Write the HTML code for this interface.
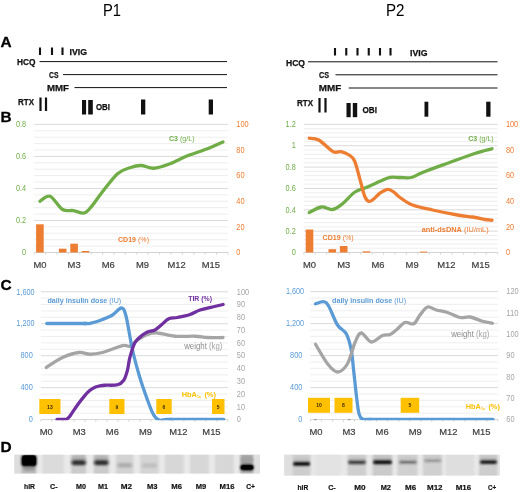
<!DOCTYPE html>
<html><head><meta charset="utf-8"><title>Figure</title><style>html,body{margin:0;padding:0;background:#fff}svg{display:block}</style></head><body>
<svg width="520" height="492" viewBox="0 0 520 492" font-family='"Liberation Sans", sans-serif'>
<defs><filter id="b1" x="-30%" y="-100%" width="160%" height="300%"><feGaussianBlur stdDeviation="1.2 0.9"/></filter><filter id="b0" x="-30%" y="-100%" width="160%" height="300%"><feGaussianBlur stdDeviation="0.6 0.5"/></filter><filter id="b2" x="-30%" y="-100%" width="160%" height="300%"><feGaussianBlur stdDeviation="1.6 1.2"/></filter><filter id="bl" x="-30%" y="-30%" width="160%" height="160%"><feGaussianBlur stdDeviation="1 0"/></filter></defs>
<rect x="0.00" y="0.00" width="520.00" height="492.00" fill="#fff"/>
<text x="102.9" y="15.8" font-size="17.2" fill="#000" textLength="18" lengthAdjust="spacingAndGlyphs">P1</text>
<text x="385.9" y="15.8" font-size="17.2" fill="#000" textLength="18.5" lengthAdjust="spacingAndGlyphs">P2</text>
<text x="0.4" y="47" font-size="15.4" fill="#000" font-weight="bold" stroke="#000" stroke-width="0.3">A</text>
<text x="0.4" y="122" font-size="15.4" fill="#000" font-weight="bold" stroke="#000" stroke-width="0.3">B</text>
<text x="0.4" y="290" font-size="15.4" fill="#000" font-weight="bold" stroke="#000" stroke-width="0.3">C</text>
<text x="0.4" y="452" font-size="15.4" fill="#000" font-weight="bold" stroke="#000" stroke-width="0.3">D</text>
<rect x="38.95" y="47.50" width="2.10" height="7.50" fill="#111"/>
<rect x="50.95" y="47.50" width="2.10" height="7.50" fill="#111"/>
<rect x="61.45" y="47.50" width="2.10" height="7.50" fill="#111"/>
<text x="69.5" y="55" font-size="9.6" fill="#111" font-weight="bold" textLength="17.5" lengthAdjust="spacingAndGlyphs" stroke="#111" stroke-width="0.25">IVIG</text>
<text x="17" y="64.5" font-size="9.7" fill="#111" font-weight="bold" textLength="18.5" lengthAdjust="spacingAndGlyphs" stroke="#111" stroke-width="0.25">HCQ</text>
<line x1="39.5" y1="61.6" x2="227" y2="61.6" stroke="#111" stroke-width="1"/>
<text x="49" y="78" font-size="9.7" fill="#111" font-weight="bold" textLength="9.5" lengthAdjust="spacingAndGlyphs" stroke="#111" stroke-width="0.25">CS</text>
<line x1="63" y1="74.6" x2="227" y2="74.6" stroke="#111" stroke-width="1"/>
<text x="47" y="91" font-size="9.7" fill="#111" font-weight="bold" textLength="22" lengthAdjust="spacingAndGlyphs" stroke="#111" stroke-width="0.25">MMF</text>
<line x1="74.5" y1="87.6" x2="227" y2="87.6" stroke="#111" stroke-width="1"/>
<text x="18" y="105" font-size="9.6" fill="#111" font-weight="bold" textLength="16" lengthAdjust="spacingAndGlyphs" stroke="#111" stroke-width="0.25">RTX</text>
<rect x="39.40" y="97.50" width="2.20" height="13.50" fill="#111"/>
<rect x="44.90" y="97.50" width="2.20" height="13.50" fill="#111"/>
<rect x="82.00" y="100.00" width="4.10" height="14.50" fill="#111"/>
<rect x="88.20" y="100.00" width="4.60" height="14.50" fill="#111"/>
<text x="96" y="110" font-size="9.6" fill="#111" font-weight="bold" textLength="14" lengthAdjust="spacingAndGlyphs" stroke="#111" stroke-width="0.25">OBI</text>
<rect x="141.00" y="99.50" width="4.30" height="15.00" fill="#111"/>
<rect x="208.70" y="99.50" width="4.30" height="15.00" fill="#111"/>
<rect x="333.95" y="48.00" width="2.10" height="7.50" fill="#111"/>
<rect x="345.20" y="48.00" width="2.10" height="7.50" fill="#111"/>
<rect x="356.45" y="48.00" width="2.10" height="7.50" fill="#111"/>
<rect x="367.70" y="48.00" width="2.10" height="7.50" fill="#111"/>
<rect x="378.95" y="48.00" width="2.10" height="7.50" fill="#111"/>
<rect x="389.45" y="48.00" width="2.10" height="7.50" fill="#111"/>
<text x="410" y="55.5" font-size="9.6" fill="#111" font-weight="bold" textLength="17.5" lengthAdjust="spacingAndGlyphs" stroke="#111" stroke-width="0.25">IVIG</text>
<text x="286" y="65.5" font-size="9.7" fill="#111" font-weight="bold" textLength="19" lengthAdjust="spacingAndGlyphs" stroke="#111" stroke-width="0.25">HCQ</text>
<line x1="308" y1="61.8" x2="497.5" y2="61.8" stroke="#111" stroke-width="1"/>
<text x="319" y="78" font-size="9.7" fill="#111" font-weight="bold" textLength="10" lengthAdjust="spacingAndGlyphs" stroke="#111" stroke-width="0.25">CS</text>
<line x1="335.5" y1="74.8" x2="497.5" y2="74.8" stroke="#111" stroke-width="1"/>
<text x="318.7" y="91" font-size="9.7" fill="#111" font-weight="bold" textLength="22.5" lengthAdjust="spacingAndGlyphs" stroke="#111" stroke-width="0.25">MMF</text>
<line x1="348.7" y1="88" x2="497.5" y2="88" stroke="#111" stroke-width="1"/>
<text x="297" y="106" font-size="9.6" fill="#111" font-weight="bold" textLength="16" lengthAdjust="spacingAndGlyphs" stroke="#111" stroke-width="0.25">RTX</text>
<rect x="318.40" y="98.00" width="2.20" height="14.50" fill="#111"/>
<rect x="324.40" y="98.00" width="2.20" height="14.50" fill="#111"/>
<rect x="346.50" y="103.00" width="4.20" height="14.20" fill="#111"/>
<rect x="352.80" y="103.00" width="4.40" height="14.20" fill="#111"/>
<text x="362.5" y="113" font-size="9.6" fill="#111" font-weight="bold" textLength="14.5" lengthAdjust="spacingAndGlyphs" stroke="#111" stroke-width="0.25">OBI</text>
<rect x="424.50" y="101.70" width="3.80" height="15.00" fill="#111"/>
<rect x="486.20" y="101.70" width="4.30" height="15.00" fill="#111"/>
<line x1="34.2" y1="124.40" x2="228" y2="124.40" stroke="#D0D0D0" stroke-width="0.8"/>
<line x1="34.2" y1="130.81" x2="228" y2="130.81" stroke="#E3E3E3" stroke-width="0.6"/>
<line x1="34.2" y1="137.21" x2="228" y2="137.21" stroke="#E3E3E3" stroke-width="0.6"/>
<line x1="34.2" y1="143.62" x2="228" y2="143.62" stroke="#E3E3E3" stroke-width="0.6"/>
<line x1="34.2" y1="150.02" x2="228" y2="150.02" stroke="#E3E3E3" stroke-width="0.6"/>
<line x1="34.2" y1="156.43" x2="228" y2="156.43" stroke="#D0D0D0" stroke-width="0.8"/>
<line x1="34.2" y1="162.83" x2="228" y2="162.83" stroke="#E3E3E3" stroke-width="0.6"/>
<line x1="34.2" y1="169.24" x2="228" y2="169.24" stroke="#E3E3E3" stroke-width="0.6"/>
<line x1="34.2" y1="175.64" x2="228" y2="175.64" stroke="#E3E3E3" stroke-width="0.6"/>
<line x1="34.2" y1="182.05" x2="228" y2="182.05" stroke="#E3E3E3" stroke-width="0.6"/>
<line x1="34.2" y1="188.45" x2="228" y2="188.45" stroke="#D0D0D0" stroke-width="0.8"/>
<line x1="34.2" y1="194.86" x2="228" y2="194.86" stroke="#E3E3E3" stroke-width="0.6"/>
<line x1="34.2" y1="201.26" x2="228" y2="201.26" stroke="#E3E3E3" stroke-width="0.6"/>
<line x1="34.2" y1="207.67" x2="228" y2="207.67" stroke="#E3E3E3" stroke-width="0.6"/>
<line x1="34.2" y1="214.07" x2="228" y2="214.07" stroke="#E3E3E3" stroke-width="0.6"/>
<line x1="34.2" y1="220.48" x2="228" y2="220.48" stroke="#D0D0D0" stroke-width="0.8"/>
<line x1="34.2" y1="226.88" x2="228" y2="226.88" stroke="#E3E3E3" stroke-width="0.6"/>
<line x1="34.2" y1="233.28" x2="228" y2="233.28" stroke="#E3E3E3" stroke-width="0.6"/>
<line x1="34.2" y1="239.69" x2="228" y2="239.69" stroke="#E3E3E3" stroke-width="0.6"/>
<line x1="34.2" y1="246.10" x2="228" y2="246.10" stroke="#E3E3E3" stroke-width="0.6"/>
<line x1="34.2" y1="252.5" x2="228" y2="252.5" stroke="#C8C8C8" stroke-width="0.8"/>
<line x1="34.20" y1="252.5" x2="34.20" y2="254.7" stroke="#C8C8C8" stroke-width="0.7"/>
<line x1="45.60" y1="252.5" x2="45.60" y2="254.7" stroke="#C8C8C8" stroke-width="0.7"/>
<line x1="57.00" y1="252.5" x2="57.00" y2="254.7" stroke="#C8C8C8" stroke-width="0.7"/>
<line x1="68.40" y1="252.5" x2="68.40" y2="254.7" stroke="#C8C8C8" stroke-width="0.7"/>
<line x1="79.80" y1="252.5" x2="79.80" y2="254.7" stroke="#C8C8C8" stroke-width="0.7"/>
<line x1="91.20" y1="252.5" x2="91.20" y2="254.7" stroke="#C8C8C8" stroke-width="0.7"/>
<line x1="102.60" y1="252.5" x2="102.60" y2="254.7" stroke="#C8C8C8" stroke-width="0.7"/>
<line x1="114.00" y1="252.5" x2="114.00" y2="254.7" stroke="#C8C8C8" stroke-width="0.7"/>
<line x1="125.40" y1="252.5" x2="125.40" y2="254.7" stroke="#C8C8C8" stroke-width="0.7"/>
<line x1="136.80" y1="252.5" x2="136.80" y2="254.7" stroke="#C8C8C8" stroke-width="0.7"/>
<line x1="148.20" y1="252.5" x2="148.20" y2="254.7" stroke="#C8C8C8" stroke-width="0.7"/>
<line x1="159.60" y1="252.5" x2="159.60" y2="254.7" stroke="#C8C8C8" stroke-width="0.7"/>
<line x1="171.00" y1="252.5" x2="171.00" y2="254.7" stroke="#C8C8C8" stroke-width="0.7"/>
<line x1="182.40" y1="252.5" x2="182.40" y2="254.7" stroke="#C8C8C8" stroke-width="0.7"/>
<line x1="193.80" y1="252.5" x2="193.80" y2="254.7" stroke="#C8C8C8" stroke-width="0.7"/>
<line x1="205.20" y1="252.5" x2="205.20" y2="254.7" stroke="#C8C8C8" stroke-width="0.7"/>
<line x1="216.60" y1="252.5" x2="216.60" y2="254.7" stroke="#C8C8C8" stroke-width="0.7"/>
<line x1="228.00" y1="252.5" x2="228.00" y2="254.7" stroke="#C8C8C8" stroke-width="0.7"/>
<text x="26.200000000000003" y="127.10" font-size="8.3" fill="#70AD47" text-anchor="end" textLength="10.2" lengthAdjust="spacingAndGlyphs">0.8</text>
<text x="26.200000000000003" y="159.12" font-size="8.3" fill="#70AD47" text-anchor="end" textLength="10.2" lengthAdjust="spacingAndGlyphs">0.6</text>
<text x="26.200000000000003" y="191.15" font-size="8.3" fill="#70AD47" text-anchor="end" textLength="10.2" lengthAdjust="spacingAndGlyphs">0.4</text>
<text x="26.200000000000003" y="223.17" font-size="8.3" fill="#70AD47" text-anchor="end" textLength="10.2" lengthAdjust="spacingAndGlyphs">0.2</text>
<text x="26.200000000000003" y="255.20" font-size="8.3" fill="#70AD47" text-anchor="end" textLength="4.1" lengthAdjust="spacingAndGlyphs">0</text>
<text x="236.3" y="127.10" font-size="8.3" fill="#ED7D31" textLength="12.3" lengthAdjust="spacingAndGlyphs">100</text>
<text x="236.3" y="152.72" font-size="8.3" fill="#ED7D31" textLength="8.2" lengthAdjust="spacingAndGlyphs">80</text>
<text x="236.3" y="178.34" font-size="8.3" fill="#ED7D31" textLength="8.2" lengthAdjust="spacingAndGlyphs">60</text>
<text x="236.3" y="203.96" font-size="8.3" fill="#ED7D31" textLength="8.2" lengthAdjust="spacingAndGlyphs">40</text>
<text x="236.3" y="229.58" font-size="8.3" fill="#ED7D31" textLength="8.2" lengthAdjust="spacingAndGlyphs">20</text>
<text x="236.3" y="255.20" font-size="8.3" fill="#ED7D31" textLength="4.1" lengthAdjust="spacingAndGlyphs">0</text>
<text x="39.90" y="268" font-size="9.4" fill="#404040" text-anchor="middle" stroke="#404040" stroke-width="0.2">M0</text>
<text x="74.10" y="268" font-size="9.4" fill="#404040" text-anchor="middle" stroke="#404040" stroke-width="0.2">M3</text>
<text x="108.30" y="268" font-size="9.4" fill="#404040" text-anchor="middle" stroke="#404040" stroke-width="0.2">M6</text>
<text x="142.50" y="268" font-size="9.4" fill="#404040" text-anchor="middle" stroke="#404040" stroke-width="0.2">M9</text>
<text x="176.70" y="268" font-size="9.4" fill="#404040" text-anchor="middle" stroke="#404040" stroke-width="0.2">M12</text>
<text x="210.90" y="268" font-size="9.4" fill="#404040" text-anchor="middle" stroke="#404040" stroke-width="0.2">M15</text>
<rect x="36.10" y="224.30" width="7.60" height="28.20" fill="#ED7D31"/>
<rect x="58.90" y="248.70" width="7.60" height="3.80" fill="#ED7D31"/>
<rect x="70.30" y="243.70" width="7.60" height="8.80" fill="#ED7D31"/>
<rect x="81.70" y="251.00" width="7.60" height="1.50" fill="#ED7D31"/>
<path d="M40.00,201.25 C41.67,200.42 46.25,194.88 50.00,196.25 C53.75,197.62 58.58,207.11 62.50,209.50 C66.42,211.89 69.87,210.02 73.50,210.60 C77.13,211.18 81.22,213.80 84.30,213.00 C87.38,212.20 89.22,209.01 92.00,205.80 C94.78,202.59 96.75,199.09 101.00,193.75 C105.25,188.41 112.67,178.09 117.50,173.75 C122.33,169.41 126.08,169.07 130.00,167.70 C133.92,166.32 137.04,165.41 141.00,165.50 C144.96,165.59 148.92,168.54 153.75,168.25 C158.58,167.96 164.38,165.83 170.00,163.75 C175.62,161.67 181.25,158.25 187.50,155.75 C193.75,153.25 201.58,151.04 207.50,148.75 C213.42,146.46 220.42,143.12 223.00,142.00" fill="none" stroke="#70AD47" stroke-width="3.3" stroke-linecap="round" stroke-linejoin="round"/>
<text x="169" y="141" font-size="7.2" fill="#70AD47" textLength="25.5" lengthAdjust="spacingAndGlyphs"><tspan font-weight="bold">C3</tspan> (g/L)</text>
<text x="118" y="242" font-size="7.2" fill="#ED7D31" textLength="31" lengthAdjust="spacingAndGlyphs"><tspan font-weight="bold">CD19</tspan> (%)</text>
<line x1="303.8" y1="124.40" x2="497.6" y2="124.40" stroke="#D0D0D0" stroke-width="0.8"/>
<line x1="303.8" y1="128.67" x2="497.6" y2="128.67" stroke="#E3E3E3" stroke-width="0.6"/>
<line x1="303.8" y1="132.94" x2="497.6" y2="132.94" stroke="#E3E3E3" stroke-width="0.6"/>
<line x1="303.8" y1="137.21" x2="497.6" y2="137.21" stroke="#E3E3E3" stroke-width="0.6"/>
<line x1="303.8" y1="141.48" x2="497.6" y2="141.48" stroke="#E3E3E3" stroke-width="0.6"/>
<line x1="303.8" y1="145.75" x2="497.6" y2="145.75" stroke="#D0D0D0" stroke-width="0.8"/>
<line x1="303.8" y1="150.02" x2="497.6" y2="150.02" stroke="#E3E3E3" stroke-width="0.6"/>
<line x1="303.8" y1="154.29" x2="497.6" y2="154.29" stroke="#E3E3E3" stroke-width="0.6"/>
<line x1="303.8" y1="158.56" x2="497.6" y2="158.56" stroke="#E3E3E3" stroke-width="0.6"/>
<line x1="303.8" y1="162.83" x2="497.6" y2="162.83" stroke="#E3E3E3" stroke-width="0.6"/>
<line x1="303.8" y1="167.10" x2="497.6" y2="167.10" stroke="#D0D0D0" stroke-width="0.8"/>
<line x1="303.8" y1="171.37" x2="497.6" y2="171.37" stroke="#E3E3E3" stroke-width="0.6"/>
<line x1="303.8" y1="175.64" x2="497.6" y2="175.64" stroke="#E3E3E3" stroke-width="0.6"/>
<line x1="303.8" y1="179.91" x2="497.6" y2="179.91" stroke="#E3E3E3" stroke-width="0.6"/>
<line x1="303.8" y1="184.18" x2="497.6" y2="184.18" stroke="#E3E3E3" stroke-width="0.6"/>
<line x1="303.8" y1="188.45" x2="497.6" y2="188.45" stroke="#D0D0D0" stroke-width="0.8"/>
<line x1="303.8" y1="192.72" x2="497.6" y2="192.72" stroke="#E3E3E3" stroke-width="0.6"/>
<line x1="303.8" y1="196.99" x2="497.6" y2="196.99" stroke="#E3E3E3" stroke-width="0.6"/>
<line x1="303.8" y1="201.26" x2="497.6" y2="201.26" stroke="#E3E3E3" stroke-width="0.6"/>
<line x1="303.8" y1="205.53" x2="497.6" y2="205.53" stroke="#E3E3E3" stroke-width="0.6"/>
<line x1="303.8" y1="209.80" x2="497.6" y2="209.80" stroke="#D0D0D0" stroke-width="0.8"/>
<line x1="303.8" y1="214.07" x2="497.6" y2="214.07" stroke="#E3E3E3" stroke-width="0.6"/>
<line x1="303.8" y1="218.34" x2="497.6" y2="218.34" stroke="#E3E3E3" stroke-width="0.6"/>
<line x1="303.8" y1="222.61" x2="497.6" y2="222.61" stroke="#E3E3E3" stroke-width="0.6"/>
<line x1="303.8" y1="226.88" x2="497.6" y2="226.88" stroke="#E3E3E3" stroke-width="0.6"/>
<line x1="303.8" y1="231.15" x2="497.6" y2="231.15" stroke="#D0D0D0" stroke-width="0.8"/>
<line x1="303.8" y1="235.42" x2="497.6" y2="235.42" stroke="#E3E3E3" stroke-width="0.6"/>
<line x1="303.8" y1="239.69" x2="497.6" y2="239.69" stroke="#E3E3E3" stroke-width="0.6"/>
<line x1="303.8" y1="243.96" x2="497.6" y2="243.96" stroke="#E3E3E3" stroke-width="0.6"/>
<line x1="303.8" y1="248.23" x2="497.6" y2="248.23" stroke="#E3E3E3" stroke-width="0.6"/>
<line x1="303.8" y1="252.5" x2="497.6" y2="252.5" stroke="#C8C8C8" stroke-width="0.8"/>
<line x1="303.80" y1="252.5" x2="303.80" y2="254.7" stroke="#C8C8C8" stroke-width="0.7"/>
<line x1="315.20" y1="252.5" x2="315.20" y2="254.7" stroke="#C8C8C8" stroke-width="0.7"/>
<line x1="326.60" y1="252.5" x2="326.60" y2="254.7" stroke="#C8C8C8" stroke-width="0.7"/>
<line x1="338.00" y1="252.5" x2="338.00" y2="254.7" stroke="#C8C8C8" stroke-width="0.7"/>
<line x1="349.40" y1="252.5" x2="349.40" y2="254.7" stroke="#C8C8C8" stroke-width="0.7"/>
<line x1="360.80" y1="252.5" x2="360.80" y2="254.7" stroke="#C8C8C8" stroke-width="0.7"/>
<line x1="372.20" y1="252.5" x2="372.20" y2="254.7" stroke="#C8C8C8" stroke-width="0.7"/>
<line x1="383.60" y1="252.5" x2="383.60" y2="254.7" stroke="#C8C8C8" stroke-width="0.7"/>
<line x1="395.00" y1="252.5" x2="395.00" y2="254.7" stroke="#C8C8C8" stroke-width="0.7"/>
<line x1="406.40" y1="252.5" x2="406.40" y2="254.7" stroke="#C8C8C8" stroke-width="0.7"/>
<line x1="417.80" y1="252.5" x2="417.80" y2="254.7" stroke="#C8C8C8" stroke-width="0.7"/>
<line x1="429.20" y1="252.5" x2="429.20" y2="254.7" stroke="#C8C8C8" stroke-width="0.7"/>
<line x1="440.60" y1="252.5" x2="440.60" y2="254.7" stroke="#C8C8C8" stroke-width="0.7"/>
<line x1="452.00" y1="252.5" x2="452.00" y2="254.7" stroke="#C8C8C8" stroke-width="0.7"/>
<line x1="463.40" y1="252.5" x2="463.40" y2="254.7" stroke="#C8C8C8" stroke-width="0.7"/>
<line x1="474.80" y1="252.5" x2="474.80" y2="254.7" stroke="#C8C8C8" stroke-width="0.7"/>
<line x1="486.20" y1="252.5" x2="486.20" y2="254.7" stroke="#C8C8C8" stroke-width="0.7"/>
<line x1="497.60" y1="252.5" x2="497.60" y2="254.7" stroke="#C8C8C8" stroke-width="0.7"/>
<text x="295.8" y="127.10" font-size="8.3" fill="#70AD47" text-anchor="end" textLength="10.2" lengthAdjust="spacingAndGlyphs">1.2</text>
<text x="295.8" y="148.45" font-size="8.3" fill="#70AD47" text-anchor="end" textLength="4.1" lengthAdjust="spacingAndGlyphs">1</text>
<text x="295.8" y="169.80" font-size="8.3" fill="#70AD47" text-anchor="end" textLength="10.2" lengthAdjust="spacingAndGlyphs">0.8</text>
<text x="295.8" y="191.15" font-size="8.3" fill="#70AD47" text-anchor="end" textLength="10.2" lengthAdjust="spacingAndGlyphs">0.6</text>
<text x="295.8" y="212.50" font-size="8.3" fill="#70AD47" text-anchor="end" textLength="10.2" lengthAdjust="spacingAndGlyphs">0.4</text>
<text x="295.8" y="233.85" font-size="8.3" fill="#70AD47" text-anchor="end" textLength="10.2" lengthAdjust="spacingAndGlyphs">0.2</text>
<text x="295.8" y="255.20" font-size="8.3" fill="#70AD47" text-anchor="end" textLength="4.1" lengthAdjust="spacingAndGlyphs">0</text>
<text x="505.90000000000003" y="127.10" font-size="8.3" fill="#ED7D31" textLength="12.3" lengthAdjust="spacingAndGlyphs">100</text>
<text x="505.90000000000003" y="152.72" font-size="8.3" fill="#ED7D31" textLength="8.2" lengthAdjust="spacingAndGlyphs">80</text>
<text x="505.90000000000003" y="178.34" font-size="8.3" fill="#ED7D31" textLength="8.2" lengthAdjust="spacingAndGlyphs">60</text>
<text x="505.90000000000003" y="203.96" font-size="8.3" fill="#ED7D31" textLength="8.2" lengthAdjust="spacingAndGlyphs">40</text>
<text x="505.90000000000003" y="229.58" font-size="8.3" fill="#ED7D31" textLength="8.2" lengthAdjust="spacingAndGlyphs">20</text>
<text x="505.90000000000003" y="255.20" font-size="8.3" fill="#ED7D31" textLength="4.1" lengthAdjust="spacingAndGlyphs">0</text>
<text x="309.50" y="268" font-size="9.4" fill="#404040" text-anchor="middle" stroke="#404040" stroke-width="0.2">M0</text>
<text x="343.70" y="268" font-size="9.4" fill="#404040" text-anchor="middle" stroke="#404040" stroke-width="0.2">M3</text>
<text x="377.90" y="268" font-size="9.4" fill="#404040" text-anchor="middle" stroke="#404040" stroke-width="0.2">M6</text>
<text x="412.10" y="268" font-size="9.4" fill="#404040" text-anchor="middle" stroke="#404040" stroke-width="0.2">M9</text>
<text x="446.30" y="268" font-size="9.4" fill="#404040" text-anchor="middle" stroke="#404040" stroke-width="0.2">M12</text>
<text x="480.50" y="268" font-size="9.4" fill="#404040" text-anchor="middle" stroke="#404040" stroke-width="0.2">M15</text>
<rect x="305.70" y="229.50" width="7.60" height="23.00" fill="#ED7D31"/>
<rect x="328.50" y="249.20" width="7.60" height="3.30" fill="#ED7D31"/>
<rect x="339.90" y="246.00" width="7.60" height="6.50" fill="#ED7D31"/>
<rect x="362.70" y="251.30" width="7.60" height="1.20" fill="#ED7D31"/>
<rect x="419.70" y="251.60" width="7.60" height="0.90" fill="#ED7D31"/>
<path d="M309.25,212.50 C311.25,211.58 317.38,207.50 321.25,207.00 C325.12,206.50 328.96,210.04 332.50,209.50 C336.04,208.96 338.75,206.67 342.50,203.75 C346.25,200.83 350.83,194.79 355.00,192.00 C359.17,189.21 363.33,188.79 367.50,187.00 C371.67,185.21 376.25,182.87 380.00,181.25 C383.75,179.63 386.67,177.93 390.00,177.30 C393.33,176.68 396.46,177.47 400.00,177.50 C403.54,177.53 407.50,178.33 411.25,177.50 C415.00,176.67 416.46,174.88 422.50,172.50 C428.54,170.12 439.17,166.29 447.50,163.25 C455.83,160.21 466.25,156.38 472.50,154.25 C478.75,152.12 481.75,151.42 485.00,150.50 C488.25,149.58 490.83,149.04 492.00,148.75" fill="none" stroke="#70AD47" stroke-width="3.3" stroke-linecap="round" stroke-linejoin="round"/>
<path d="M309.25,138.25 C310.83,138.54 314.79,137.78 318.75,140.00 C322.71,142.22 329.29,149.67 333.00,151.60 C336.71,153.53 338.33,151.03 341.00,151.60 C343.67,152.17 346.73,153.43 349.00,155.00 C351.27,156.57 352.63,156.42 354.60,161.00 C356.57,165.58 359.10,176.58 360.80,182.50 C362.50,188.42 363.43,193.35 364.80,196.50 C366.17,199.65 367.47,201.02 369.00,201.40 C370.53,201.78 372.17,200.17 374.00,198.80 C375.83,197.43 377.67,194.77 380.00,193.20 C382.33,191.63 385.58,189.50 388.00,189.40 C390.42,189.30 392.50,191.25 394.50,192.60 C396.50,193.95 397.00,195.43 400.00,197.50 C403.00,199.57 407.08,202.92 412.50,205.00 C417.92,207.08 425.00,208.33 432.50,210.00 C440.00,211.67 450.83,213.83 457.50,215.00 C464.17,216.17 467.92,216.25 472.50,217.00 C477.08,217.75 481.75,218.96 485.00,219.50 C488.25,220.04 490.83,220.12 492.00,220.25" fill="none" stroke="#ED7D31" stroke-width="3.3" stroke-linecap="round" stroke-linejoin="round"/>
<text x="468.2" y="141.2" font-size="7.2" fill="#70AD47" textLength="25.5" lengthAdjust="spacingAndGlyphs"><tspan font-weight="bold">C3</tspan> (g/L)</text>
<text x="322.5" y="239.5" font-size="7.2" fill="#ED7D31" textLength="31.2" lengthAdjust="spacingAndGlyphs"><tspan font-weight="bold">CD19</tspan> (%)</text>
<text x="421.7" y="232.4" font-size="7.2" fill="#ED7D31" textLength="67" lengthAdjust="spacingAndGlyphs"><tspan font-weight="bold">anti-dsDNA</tspan> (IU/mL)</text>
<line x1="40.8" y1="291.80" x2="228" y2="291.80" stroke="#D0D0D0" stroke-width="0.8"/>
<line x1="40.8" y1="298.19" x2="228" y2="298.19" stroke="#E3E3E3" stroke-width="0.6"/>
<line x1="40.8" y1="304.58" x2="228" y2="304.58" stroke="#E3E3E3" stroke-width="0.6"/>
<line x1="40.8" y1="310.97" x2="228" y2="310.97" stroke="#E3E3E3" stroke-width="0.6"/>
<line x1="40.8" y1="317.36" x2="228" y2="317.36" stroke="#E3E3E3" stroke-width="0.6"/>
<line x1="40.8" y1="323.75" x2="228" y2="323.75" stroke="#D0D0D0" stroke-width="0.8"/>
<line x1="40.8" y1="330.14" x2="228" y2="330.14" stroke="#E3E3E3" stroke-width="0.6"/>
<line x1="40.8" y1="336.53" x2="228" y2="336.53" stroke="#E3E3E3" stroke-width="0.6"/>
<line x1="40.8" y1="342.92" x2="228" y2="342.92" stroke="#E3E3E3" stroke-width="0.6"/>
<line x1="40.8" y1="349.31" x2="228" y2="349.31" stroke="#E3E3E3" stroke-width="0.6"/>
<line x1="40.8" y1="355.70" x2="228" y2="355.70" stroke="#D0D0D0" stroke-width="0.8"/>
<line x1="40.8" y1="362.09" x2="228" y2="362.09" stroke="#E3E3E3" stroke-width="0.6"/>
<line x1="40.8" y1="368.48" x2="228" y2="368.48" stroke="#E3E3E3" stroke-width="0.6"/>
<line x1="40.8" y1="374.87" x2="228" y2="374.87" stroke="#E3E3E3" stroke-width="0.6"/>
<line x1="40.8" y1="381.26" x2="228" y2="381.26" stroke="#E3E3E3" stroke-width="0.6"/>
<line x1="40.8" y1="387.65" x2="228" y2="387.65" stroke="#D0D0D0" stroke-width="0.8"/>
<line x1="40.8" y1="394.04" x2="228" y2="394.04" stroke="#E3E3E3" stroke-width="0.6"/>
<line x1="40.8" y1="400.43" x2="228" y2="400.43" stroke="#E3E3E3" stroke-width="0.6"/>
<line x1="40.8" y1="406.82" x2="228" y2="406.82" stroke="#E3E3E3" stroke-width="0.6"/>
<line x1="40.8" y1="413.21" x2="228" y2="413.21" stroke="#E3E3E3" stroke-width="0.6"/>
<line x1="40.8" y1="419.6" x2="228" y2="419.6" stroke="#C8C8C8" stroke-width="0.8"/>
<line x1="40.80" y1="419.6" x2="40.80" y2="421.8" stroke="#C8C8C8" stroke-width="0.7"/>
<line x1="51.81" y1="419.6" x2="51.81" y2="421.8" stroke="#C8C8C8" stroke-width="0.7"/>
<line x1="62.82" y1="419.6" x2="62.82" y2="421.8" stroke="#C8C8C8" stroke-width="0.7"/>
<line x1="73.84" y1="419.6" x2="73.84" y2="421.8" stroke="#C8C8C8" stroke-width="0.7"/>
<line x1="84.85" y1="419.6" x2="84.85" y2="421.8" stroke="#C8C8C8" stroke-width="0.7"/>
<line x1="95.86" y1="419.6" x2="95.86" y2="421.8" stroke="#C8C8C8" stroke-width="0.7"/>
<line x1="106.87" y1="419.6" x2="106.87" y2="421.8" stroke="#C8C8C8" stroke-width="0.7"/>
<line x1="117.88" y1="419.6" x2="117.88" y2="421.8" stroke="#C8C8C8" stroke-width="0.7"/>
<line x1="128.89" y1="419.6" x2="128.89" y2="421.8" stroke="#C8C8C8" stroke-width="0.7"/>
<line x1="139.91" y1="419.6" x2="139.91" y2="421.8" stroke="#C8C8C8" stroke-width="0.7"/>
<line x1="150.92" y1="419.6" x2="150.92" y2="421.8" stroke="#C8C8C8" stroke-width="0.7"/>
<line x1="161.93" y1="419.6" x2="161.93" y2="421.8" stroke="#C8C8C8" stroke-width="0.7"/>
<line x1="172.94" y1="419.6" x2="172.94" y2="421.8" stroke="#C8C8C8" stroke-width="0.7"/>
<line x1="183.95" y1="419.6" x2="183.95" y2="421.8" stroke="#C8C8C8" stroke-width="0.7"/>
<line x1="194.96" y1="419.6" x2="194.96" y2="421.8" stroke="#C8C8C8" stroke-width="0.7"/>
<line x1="205.98" y1="419.6" x2="205.98" y2="421.8" stroke="#C8C8C8" stroke-width="0.7"/>
<line x1="216.99" y1="419.6" x2="216.99" y2="421.8" stroke="#C8C8C8" stroke-width="0.7"/>
<line x1="228.00" y1="419.6" x2="228.00" y2="421.8" stroke="#C8C8C8" stroke-width="0.7"/>
<text x="34.599999999999994" y="294.50" font-size="8.3" fill="#5B9BD5" text-anchor="end" textLength="18.3" lengthAdjust="spacingAndGlyphs">1,600</text>
<text x="34.599999999999994" y="326.45" font-size="8.3" fill="#5B9BD5" text-anchor="end" textLength="18.3" lengthAdjust="spacingAndGlyphs">1,200</text>
<text x="32.8" y="358.40" font-size="8.3" fill="#5B9BD5" text-anchor="end" textLength="12.3" lengthAdjust="spacingAndGlyphs">800</text>
<text x="32.8" y="390.35" font-size="8.3" fill="#5B9BD5" text-anchor="end" textLength="12.3" lengthAdjust="spacingAndGlyphs">400</text>
<text x="32.8" y="422.30" font-size="8.3" fill="#5B9BD5" text-anchor="end" textLength="4.1" lengthAdjust="spacingAndGlyphs">0</text>
<text x="236.8" y="294.50" font-size="8.3" fill="#A5A5A5" textLength="12.3" lengthAdjust="spacingAndGlyphs">100</text>
<text x="236.8" y="307.28" font-size="8.3" fill="#A5A5A5" textLength="8.2" lengthAdjust="spacingAndGlyphs">90</text>
<text x="236.8" y="320.06" font-size="8.3" fill="#A5A5A5" textLength="8.2" lengthAdjust="spacingAndGlyphs">80</text>
<text x="236.8" y="332.84" font-size="8.3" fill="#A5A5A5" textLength="8.2" lengthAdjust="spacingAndGlyphs">70</text>
<text x="236.8" y="345.62" font-size="8.3" fill="#A5A5A5" textLength="8.2" lengthAdjust="spacingAndGlyphs">60</text>
<text x="236.8" y="358.40" font-size="8.3" fill="#A5A5A5" textLength="8.2" lengthAdjust="spacingAndGlyphs">50</text>
<text x="236.8" y="371.18" font-size="8.3" fill="#A5A5A5" textLength="8.2" lengthAdjust="spacingAndGlyphs">40</text>
<text x="236.8" y="383.96" font-size="8.3" fill="#A5A5A5" textLength="8.2" lengthAdjust="spacingAndGlyphs">30</text>
<text x="236.8" y="396.74" font-size="8.3" fill="#A5A5A5" textLength="8.2" lengthAdjust="spacingAndGlyphs">20</text>
<text x="236.8" y="409.52" font-size="8.3" fill="#A5A5A5" textLength="8.2" lengthAdjust="spacingAndGlyphs">10</text>
<text x="236.8" y="422.30" font-size="8.3" fill="#A5A5A5" textLength="4.1" lengthAdjust="spacingAndGlyphs">0</text>
<text x="46.31" y="434.5" font-size="9.4" fill="#404040" text-anchor="middle" stroke="#404040" stroke-width="0.2">M0</text>
<text x="79.34" y="434.5" font-size="9.4" fill="#404040" text-anchor="middle" stroke="#404040" stroke-width="0.2">M3</text>
<text x="112.38" y="434.5" font-size="9.4" fill="#404040" text-anchor="middle" stroke="#404040" stroke-width="0.2">M6</text>
<text x="145.41" y="434.5" font-size="9.4" fill="#404040" text-anchor="middle" stroke="#404040" stroke-width="0.2">M9</text>
<text x="178.45" y="434.5" font-size="9.4" fill="#404040" text-anchor="middle" stroke="#404040" stroke-width="0.2">M12</text>
<text x="211.48" y="434.5" font-size="9.4" fill="#404040" text-anchor="middle" stroke="#404040" stroke-width="0.2">M15</text>
<rect x="39.30" y="399.00" width="21.20" height="15.00" fill="#FFC000"/>
<text x="49.90" y="408.60" font-size="5.8" fill="#3a2c00" font-weight="bold" text-anchor="middle" textLength="5.6" lengthAdjust="spacingAndGlyphs">13</text>
<rect x="109.30" y="399.00" width="15.20" height="15.00" fill="#FFC000"/>
<text x="116.90" y="408.60" font-size="5.8" fill="#3a2c00" font-weight="bold" text-anchor="middle" textLength="2.8" lengthAdjust="spacingAndGlyphs">9</text>
<rect x="156.30" y="399.00" width="15.40" height="15.00" fill="#FFC000"/>
<text x="164.00" y="408.60" font-size="5.8" fill="#3a2c00" font-weight="bold" text-anchor="middle" textLength="2.8" lengthAdjust="spacingAndGlyphs">6</text>
<rect x="212.00" y="399.00" width="12.50" height="15.00" fill="#FFC000"/>
<text x="218.25" y="408.60" font-size="5.8" fill="#3a2c00" font-weight="bold" text-anchor="middle" textLength="2.8" lengthAdjust="spacingAndGlyphs">5</text>
<path d="M46.25,367.50 C48.96,365.83 57.08,360.00 62.50,357.50 C67.92,355.00 74.17,353.04 78.75,352.50 C83.33,351.96 86.04,354.25 90.00,354.25 C93.96,354.25 97.08,353.93 102.50,352.50 C107.92,351.07 117.92,346.77 122.50,345.70 C127.08,344.63 127.50,347.05 130.00,346.10 C132.50,345.15 134.58,341.93 137.50,340.00 C140.42,338.07 144.17,335.67 147.50,334.50 C150.83,333.33 152.92,332.71 157.50,333.00 C162.08,333.29 168.75,335.71 175.00,336.25 C181.25,336.79 189.58,336.04 195.00,336.25 C200.42,336.46 202.83,337.29 207.50,337.50 C212.17,337.71 220.42,337.50 223.00,337.50" fill="none" stroke="#A5A5A5" stroke-width="3.3" stroke-linecap="round" stroke-linejoin="round"/>
<clipPath id="c1"><rect x="30" y="285" width="210" height="135.3"/></clipPath><g clip-path="url(#c1)">
<path d="M46.8,323.5 H86" stroke="#5B9BD5" stroke-width="3.3" stroke-linecap="round" fill="none"/>
<path d="M84.00,323.50 C84.50,323.50 86.00,323.52 87.00,323.50 C88.00,323.48 87.83,323.90 90.00,323.40 C92.17,322.90 96.25,321.90 100.00,320.50 C103.75,319.10 108.96,317.08 112.50,315.00 C116.04,312.92 119.00,307.83 121.25,308.00 C123.50,308.17 124.12,309.00 126.00,316.00 C127.88,323.00 130.17,339.67 132.50,350.00 C134.83,360.33 137.50,369.67 140.00,378.00 C142.50,386.33 145.42,394.22 147.50,400.00 C149.58,405.78 151.03,409.67 152.50,412.70 C153.97,415.73 155.00,416.93 156.30,418.20 C157.60,419.47 158.93,420.07 160.30,420.30 C161.67,420.53 163.22,419.75 164.50,419.60 C165.78,419.45 166.92,419.43 168.00,419.40 C169.08,419.37 170.50,419.40 171.00,419.40" fill="none" stroke="#5B9BD5" stroke-width="3.3" stroke-linecap="round" stroke-linejoin="round"/>
<path d="M170,419.4 H223.7" stroke="#5B9BD5" stroke-width="3.3" stroke-linecap="round" fill="none"/>
</g>
<g clip-path="url(#c1)">
<path d="M57.00,419.40 C57.83,419.40 60.45,419.43 62.00,419.40 C63.55,419.37 65.08,419.63 66.30,419.20 C67.52,418.77 68.38,417.77 69.30,416.80 C70.22,415.83 70.35,415.50 71.80,413.40 C73.25,411.30 75.80,407.22 78.00,404.20 C80.20,401.18 83.00,397.62 85.00,395.30 C87.00,392.98 88.33,391.65 90.00,390.30 C91.67,388.95 93.33,387.95 95.00,387.20 C96.67,386.45 98.33,386.12 100.00,385.80 C101.67,385.48 102.08,385.43 105.00,385.25 C107.92,385.07 114.38,385.58 117.50,384.75 C120.62,383.92 122.08,382.71 123.75,380.25 C125.42,377.79 126.46,373.88 127.50,370.00 C128.54,366.12 128.75,361.58 130.00,357.00 C131.25,352.42 132.92,346.17 135.00,342.50 C137.08,338.83 140.42,336.75 142.50,335.00 C144.58,333.25 145.42,332.83 147.50,332.00 C149.58,331.17 152.71,331.17 155.00,330.00 C157.29,328.83 158.96,326.88 161.25,325.00 C163.54,323.12 166.04,320.00 168.75,318.75 C171.46,317.50 173.96,318.21 177.50,317.50 C181.04,316.79 186.25,315.75 190.00,314.50 C193.75,313.25 196.25,311.25 200.00,310.00 C203.75,308.75 208.67,307.92 212.50,307.00 C216.33,306.08 221.25,304.92 223.00,304.50" fill="none" stroke="#7030A0" stroke-width="3.3" stroke-linecap="round" stroke-linejoin="round"/>
</g>
<text x="47.5" y="302.8" font-size="7.6" fill="#5B9BD5" textLength="73.7" lengthAdjust="spacingAndGlyphs"><tspan font-weight="bold">daily insulin dose</tspan> (IU)</text>
<text x="188.2" y="300.9" font-size="8" fill="#7030A0" font-weight="bold" textLength="23.8" lengthAdjust="spacingAndGlyphs">TIR (%)</text>
<text x="184.2" y="348.5" font-size="8.2" fill="#8C8C8C" textLength="38.3" lengthAdjust="spacingAndGlyphs">weight <tspan fill="#A5A5A5">(kg)</tspan></text>
<text x="181.7" y="397" font-size="7.4" fill="#FFC000" font-weight="bold">HbA<tspan font-size="3.6" dy="0.8">1c</tspan><tspan dy="-0.8" dx="3.5">(%)</tspan></text>
<line x1="310.4" y1="291.60" x2="498" y2="291.60" stroke="#D0D0D0" stroke-width="0.8"/>
<line x1="310.4" y1="298.00" x2="498" y2="298.00" stroke="#E3E3E3" stroke-width="0.6"/>
<line x1="310.4" y1="304.40" x2="498" y2="304.40" stroke="#E3E3E3" stroke-width="0.6"/>
<line x1="310.4" y1="310.80" x2="498" y2="310.80" stroke="#E3E3E3" stroke-width="0.6"/>
<line x1="310.4" y1="317.20" x2="498" y2="317.20" stroke="#E3E3E3" stroke-width="0.6"/>
<line x1="310.4" y1="323.60" x2="498" y2="323.60" stroke="#D0D0D0" stroke-width="0.8"/>
<line x1="310.4" y1="330.00" x2="498" y2="330.00" stroke="#E3E3E3" stroke-width="0.6"/>
<line x1="310.4" y1="336.40" x2="498" y2="336.40" stroke="#E3E3E3" stroke-width="0.6"/>
<line x1="310.4" y1="342.80" x2="498" y2="342.80" stroke="#E3E3E3" stroke-width="0.6"/>
<line x1="310.4" y1="349.20" x2="498" y2="349.20" stroke="#E3E3E3" stroke-width="0.6"/>
<line x1="310.4" y1="355.60" x2="498" y2="355.60" stroke="#D0D0D0" stroke-width="0.8"/>
<line x1="310.4" y1="362.00" x2="498" y2="362.00" stroke="#E3E3E3" stroke-width="0.6"/>
<line x1="310.4" y1="368.40" x2="498" y2="368.40" stroke="#E3E3E3" stroke-width="0.6"/>
<line x1="310.4" y1="374.80" x2="498" y2="374.80" stroke="#E3E3E3" stroke-width="0.6"/>
<line x1="310.4" y1="381.20" x2="498" y2="381.20" stroke="#E3E3E3" stroke-width="0.6"/>
<line x1="310.4" y1="387.60" x2="498" y2="387.60" stroke="#D0D0D0" stroke-width="0.8"/>
<line x1="310.4" y1="394.00" x2="498" y2="394.00" stroke="#E3E3E3" stroke-width="0.6"/>
<line x1="310.4" y1="400.40" x2="498" y2="400.40" stroke="#E3E3E3" stroke-width="0.6"/>
<line x1="310.4" y1="406.80" x2="498" y2="406.80" stroke="#E3E3E3" stroke-width="0.6"/>
<line x1="310.4" y1="413.20" x2="498" y2="413.20" stroke="#E3E3E3" stroke-width="0.6"/>
<line x1="310.4" y1="419.6" x2="498" y2="419.6" stroke="#C8C8C8" stroke-width="0.8"/>
<line x1="310.40" y1="419.6" x2="310.40" y2="421.8" stroke="#C8C8C8" stroke-width="0.7"/>
<line x1="321.44" y1="419.6" x2="321.44" y2="421.8" stroke="#C8C8C8" stroke-width="0.7"/>
<line x1="332.47" y1="419.6" x2="332.47" y2="421.8" stroke="#C8C8C8" stroke-width="0.7"/>
<line x1="343.51" y1="419.6" x2="343.51" y2="421.8" stroke="#C8C8C8" stroke-width="0.7"/>
<line x1="354.54" y1="419.6" x2="354.54" y2="421.8" stroke="#C8C8C8" stroke-width="0.7"/>
<line x1="365.58" y1="419.6" x2="365.58" y2="421.8" stroke="#C8C8C8" stroke-width="0.7"/>
<line x1="376.61" y1="419.6" x2="376.61" y2="421.8" stroke="#C8C8C8" stroke-width="0.7"/>
<line x1="387.65" y1="419.6" x2="387.65" y2="421.8" stroke="#C8C8C8" stroke-width="0.7"/>
<line x1="398.68" y1="419.6" x2="398.68" y2="421.8" stroke="#C8C8C8" stroke-width="0.7"/>
<line x1="409.72" y1="419.6" x2="409.72" y2="421.8" stroke="#C8C8C8" stroke-width="0.7"/>
<line x1="420.75" y1="419.6" x2="420.75" y2="421.8" stroke="#C8C8C8" stroke-width="0.7"/>
<line x1="431.79" y1="419.6" x2="431.79" y2="421.8" stroke="#C8C8C8" stroke-width="0.7"/>
<line x1="442.82" y1="419.6" x2="442.82" y2="421.8" stroke="#C8C8C8" stroke-width="0.7"/>
<line x1="453.86" y1="419.6" x2="453.86" y2="421.8" stroke="#C8C8C8" stroke-width="0.7"/>
<line x1="464.89" y1="419.6" x2="464.89" y2="421.8" stroke="#C8C8C8" stroke-width="0.7"/>
<line x1="475.93" y1="419.6" x2="475.93" y2="421.8" stroke="#C8C8C8" stroke-width="0.7"/>
<line x1="486.96" y1="419.6" x2="486.96" y2="421.8" stroke="#C8C8C8" stroke-width="0.7"/>
<line x1="498.00" y1="419.6" x2="498.00" y2="421.8" stroke="#C8C8C8" stroke-width="0.7"/>
<text x="304.2" y="294.30" font-size="8.3" fill="#5B9BD5" text-anchor="end" textLength="18.3" lengthAdjust="spacingAndGlyphs">1,600</text>
<text x="304.2" y="326.30" font-size="8.3" fill="#5B9BD5" text-anchor="end" textLength="18.3" lengthAdjust="spacingAndGlyphs">1,200</text>
<text x="302.4" y="358.30" font-size="8.3" fill="#5B9BD5" text-anchor="end" textLength="12.3" lengthAdjust="spacingAndGlyphs">800</text>
<text x="302.4" y="390.30" font-size="8.3" fill="#5B9BD5" text-anchor="end" textLength="12.3" lengthAdjust="spacingAndGlyphs">400</text>
<text x="302.4" y="422.30" font-size="8.3" fill="#5B9BD5" text-anchor="end" textLength="4.1" lengthAdjust="spacingAndGlyphs">0</text>
<text x="506.3" y="294.30" font-size="8.3" fill="#A5A5A5" textLength="12.3" lengthAdjust="spacingAndGlyphs">120</text>
<text x="506.3" y="315.63" font-size="8.3" fill="#A5A5A5" textLength="12.3" lengthAdjust="spacingAndGlyphs">110</text>
<text x="506.3" y="336.97" font-size="8.3" fill="#A5A5A5" textLength="12.3" lengthAdjust="spacingAndGlyphs">100</text>
<text x="506.3" y="358.30" font-size="8.3" fill="#A5A5A5" textLength="8.2" lengthAdjust="spacingAndGlyphs">90</text>
<text x="506.3" y="379.63" font-size="8.3" fill="#A5A5A5" textLength="8.2" lengthAdjust="spacingAndGlyphs">80</text>
<text x="506.3" y="400.97" font-size="8.3" fill="#A5A5A5" textLength="8.2" lengthAdjust="spacingAndGlyphs">70</text>
<text x="506.3" y="422.30" font-size="8.3" fill="#A5A5A5" textLength="8.2" lengthAdjust="spacingAndGlyphs">60</text>
<text x="315.92" y="434.5" font-size="9.4" fill="#404040" text-anchor="middle" stroke="#404040" stroke-width="0.2">M0</text>
<text x="349.02" y="434.5" font-size="9.4" fill="#404040" text-anchor="middle" stroke="#404040" stroke-width="0.2">M3</text>
<text x="382.13" y="434.5" font-size="9.4" fill="#404040" text-anchor="middle" stroke="#404040" stroke-width="0.2">M6</text>
<text x="415.24" y="434.5" font-size="9.4" fill="#404040" text-anchor="middle" stroke="#404040" stroke-width="0.2">M9</text>
<text x="448.34" y="434.5" font-size="9.4" fill="#404040" text-anchor="middle" stroke="#404040" stroke-width="0.2">M12</text>
<text x="481.45" y="434.5" font-size="9.4" fill="#404040" text-anchor="middle" stroke="#404040" stroke-width="0.2">M15</text>
<rect x="308.00" y="397.80" width="22.00" height="15.00" fill="#FFC000"/>
<text x="319.00" y="407.40" font-size="5.8" fill="#3a2c00" font-weight="bold" text-anchor="middle" textLength="5.6" lengthAdjust="spacingAndGlyphs">10</text>
<rect x="334.50" y="397.80" width="18.00" height="15.00" fill="#FFC000"/>
<text x="343.50" y="407.40" font-size="5.8" fill="#3a2c00" font-weight="bold" text-anchor="middle" textLength="2.8" lengthAdjust="spacingAndGlyphs">8</text>
<rect x="400.70" y="397.80" width="18.50" height="15.00" fill="#FFC000"/>
<text x="409.95" y="407.40" font-size="5.8" fill="#3a2c00" font-weight="bold" text-anchor="middle" textLength="2.8" lengthAdjust="spacingAndGlyphs">5</text>
<clipPath id="c2"><rect x="300" y="285" width="210" height="135.3"/></clipPath><g clip-path="url(#c2)">
<path d="M315.50,303.75 C316.88,303.42 321.54,301.33 323.75,301.75 C325.96,302.17 326.46,302.38 328.75,306.25 C331.04,310.12 334.58,320.42 337.50,325.00 C340.42,329.58 343.96,329.58 346.25,333.75 C348.54,337.92 350.02,343.96 351.25,350.00 C352.48,356.04 352.78,362.67 353.60,370.00 C354.43,377.33 355.38,387.08 356.20,394.00 C357.02,400.92 357.77,407.58 358.50,411.50 C359.23,415.42 359.77,416.20 360.60,417.50 C361.43,418.80 362.43,418.98 363.50,419.30 C364.57,419.62 365.83,419.38 367.00,419.40 C368.17,419.42 369.92,419.40 370.50,419.40" fill="none" stroke="#5B9BD5" stroke-width="3.3" stroke-linecap="round" stroke-linejoin="round"/>
<path d="M369,419.4 H493" stroke="#5B9BD5" stroke-width="3.3" stroke-linecap="round" fill="none"/>
</g>
<rect x="314.30" y="419.30" width="2.40" height="0.80" fill="#808080"/>
<rect x="348.00" y="419.30" width="2.40" height="0.80" fill="#808080"/>
<path d="M315.50,344.25 C317.50,347.50 323.83,359.12 327.50,363.75 C331.17,368.38 334.17,372.00 337.50,372.00 C340.83,372.00 344.58,368.67 347.50,363.75 C350.42,358.83 352.71,347.62 355.00,342.50 C357.29,337.38 358.54,333.08 361.25,333.00 C363.96,332.92 367.71,341.58 371.25,342.00 C374.79,342.42 379.38,336.75 382.50,335.50 C385.62,334.25 387.71,335.42 390.00,334.50 C392.29,333.58 393.75,332.00 396.25,330.00 C398.75,328.00 402.08,323.54 405.00,322.50 C407.92,321.46 411.25,325.00 413.75,323.75 C416.25,322.50 417.71,317.79 420.00,315.00 C422.29,312.21 424.79,307.83 427.50,307.00 C430.21,306.17 432.92,309.08 436.25,310.00 C439.58,310.92 443.54,311.25 447.50,312.50 C451.46,313.75 456.25,316.75 460.00,317.50 C463.75,318.25 466.25,316.38 470.00,317.00 C473.75,317.62 478.75,320.21 482.50,321.25 C486.25,322.29 490.83,322.92 492.50,323.25" fill="none" stroke="#A5A5A5" stroke-width="3.3" stroke-linecap="round" stroke-linejoin="round"/>
<text x="332" y="302.8" font-size="7.6" fill="#5B9BD5" textLength="74.2" lengthAdjust="spacingAndGlyphs"><tspan font-weight="bold">daily insulin dose</tspan> (IU)</text>
<text x="451.2" y="337.3" font-size="8.2" fill="#8C8C8C" textLength="38.3" lengthAdjust="spacingAndGlyphs">weight <tspan fill="#A5A5A5">(kg)</tspan></text>
<text x="465.7" y="409.4" font-size="7.4" fill="#FFC000" font-weight="bold">HbA<tspan font-size="3.6" dy="0.8">1c</tspan><tspan dy="-0.8" dx="3.5">(%)</tspan></text>
<clipPath id="g1"><rect x="14.4" y="454.7" width="245.6" height="18.9"/></clipPath>
<clipPath id="g2"><rect x="284.3" y="454.7" width="215.7" height="20.9"/></clipPath>
<g clip-path="url(#g1)">
<rect x="14.00" y="453.70" width="247.00" height="20.90" fill="#E9E9E9"/>
<rect x="14.00" y="453.70" width="7.50" height="20.90" fill="#DDDDDD"/>
<rect x="21.3" y="451.7" width="14.999999999999996" height="24.900000000000034" fill="#BEBEBE" filter="url(#bl)"/>
<rect x="42.5" y="451.7" width="21.200000000000003" height="24.900000000000034" fill="#DBDBDB" filter="url(#bl)"/>
<rect x="71" y="451.7" width="15" height="24.900000000000034" fill="#CBCBCB" filter="url(#bl)"/>
<rect x="93.8" y="451.7" width="15.0" height="24.900000000000034" fill="#CBCBCB" filter="url(#bl)"/>
<rect x="116" y="451.7" width="17.5" height="24.900000000000034" fill="#D3D3D3" filter="url(#bl)"/>
<rect x="140" y="451.7" width="18.69999999999999" height="24.900000000000034" fill="#D5D5D5" filter="url(#bl)"/>
<rect x="165" y="451.7" width="18.69999999999999" height="24.900000000000034" fill="#D7D7D7" filter="url(#bl)"/>
<rect x="190" y="451.7" width="18.69999999999999" height="24.900000000000034" fill="#D7D7D7" filter="url(#bl)"/>
<rect x="215" y="451.7" width="18.69999999999999" height="24.900000000000034" fill="#D7D7D7" filter="url(#bl)"/>
<rect x="240" y="451.7" width="13.699999999999989" height="24.900000000000034" fill="#B8B8B8" filter="url(#bl)"/>
<rect x="254.50" y="453.70" width="6.00" height="20.90" fill="#E0E0E0"/>
<rect x="21.4" y="454.9" width="15.2" height="11.6" rx="3.2" fill="#000" filter="url(#b1)"/>
<rect x="22.2" y="455.6" width="13.6" height="10" rx="2.6" fill="#000" filter="url(#b0)"/>
<rect x="23" y="466.00" width="12" height="5" rx="2.5" fill="#666" opacity="0.4" filter="url(#b1)"/>
<rect x="71.5" y="455.70" width="14.5" height="7" rx="3.5" fill="#888" opacity="0.4" filter="url(#b2)"/>
<rect x="71.5" y="460.20" width="14.5" height="5" rx="2.5" fill="#111" opacity="0.72" filter="url(#b2)"/>
<rect x="73.0" y="461.60" width="11.5" height="2.4" rx="1.2" fill="#000" opacity="0.3" filter="url(#b1)"/>
<rect x="94" y="455.70" width="14.599999999999994" height="7" rx="3.5" fill="#888" opacity="0.4" filter="url(#b2)"/>
<rect x="94" y="460.20" width="14.599999999999994" height="5" rx="2.5" fill="#111" opacity="0.72" filter="url(#b2)"/>
<rect x="95.5" y="461.60" width="11.599999999999994" height="2.4" rx="1.2" fill="#000" opacity="0.3" filter="url(#b1)"/>
<rect x="117.5" y="463.05" width="14.5" height="4.5" rx="2.2" fill="#555" opacity="0.3" filter="url(#b2)"/>
<rect x="142" y="463.25" width="15" height="4.5" rx="2.2" fill="#666" opacity="0.2" filter="url(#b2)"/>
<rect x="240.5" y="455.50" width="13.0" height="9" rx="4.5" fill="#777" opacity="0.35" filter="url(#b1)"/>
<rect x="240.2" y="464.40" width="13.600000000000023" height="6" rx="3.0" fill="#000" opacity="1" filter="url(#b1)"/>
<rect x="241" y="465.30" width="12" height="4.2" rx="2.1" fill="#000" opacity="1" filter="url(#b0)"/>
</g>
<text x="24" y="489.2" font-size="8.1" fill="#111" font-weight="bold" textLength="11.0" lengthAdjust="spacingAndGlyphs" stroke="#111" stroke-width="0.2">hIR</text>
<text x="50" y="489.2" font-size="8.1" fill="#111" font-weight="bold" textLength="7.5" lengthAdjust="spacingAndGlyphs" stroke="#111" stroke-width="0.2">C-</text>
<text x="76" y="489.2" font-size="8.1" fill="#111" font-weight="bold" textLength="10.0" lengthAdjust="spacingAndGlyphs" stroke="#111" stroke-width="0.2">M0</text>
<text x="98" y="489.2" font-size="8.1" fill="#111" font-weight="bold" textLength="10.0" lengthAdjust="spacingAndGlyphs" stroke="#111" stroke-width="0.2">M1</text>
<text x="120.7" y="489.2" font-size="8.1" fill="#111" font-weight="bold" textLength="11.3" lengthAdjust="spacingAndGlyphs" stroke="#111" stroke-width="0.2">M2</text>
<text x="147" y="489.2" font-size="8.1" fill="#111" font-weight="bold" textLength="10.5" lengthAdjust="spacingAndGlyphs" stroke="#111" stroke-width="0.2">M3</text>
<text x="171.2" y="489.2" font-size="8.1" fill="#111" font-weight="bold" textLength="10.8" lengthAdjust="spacingAndGlyphs" stroke="#111" stroke-width="0.2">M6</text>
<text x="195.7" y="489.2" font-size="8.1" fill="#111" font-weight="bold" textLength="10.5" lengthAdjust="spacingAndGlyphs" stroke="#111" stroke-width="0.2">M9</text>
<text x="219.5" y="489.2" font-size="8.1" fill="#111" font-weight="bold" textLength="15.0" lengthAdjust="spacingAndGlyphs" stroke="#111" stroke-width="0.2">M16</text>
<text x="246.2" y="489.2" font-size="8.1" fill="#111" font-weight="bold" textLength="8.8" lengthAdjust="spacingAndGlyphs" stroke="#111" stroke-width="0.2">C+</text>
<g clip-path="url(#g2)">
<rect x="284.00" y="453.70" width="217.00" height="22.90" fill="#E8E8E8"/>
<rect x="284.00" y="453.70" width="8.50" height="22.90" fill="#DFDFDF"/>
<rect x="292.5" y="451.7" width="18.0" height="26.900000000000034" fill="#CDCDCD" filter="url(#bl)"/>
<rect x="315" y="451.7" width="26" height="26.900000000000034" fill="#E3E3E3" filter="url(#bl)"/>
<rect x="347.5" y="451.7" width="18.69999999999999" height="26.900000000000034" fill="#CFCFCF" filter="url(#bl)"/>
<rect x="372.5" y="451.7" width="19.80000000000001" height="26.900000000000034" fill="#CACACA" filter="url(#bl)"/>
<rect x="397.5" y="451.7" width="20.0" height="26.900000000000034" fill="#D0D0D0" filter="url(#bl)"/>
<rect x="423" y="451.7" width="19" height="26.900000000000034" fill="#D0D0D0" filter="url(#bl)"/>
<rect x="446" y="451.7" width="28" height="26.900000000000034" fill="#DEDEDE" filter="url(#bl)"/>
<rect x="479" y="451.7" width="18.5" height="26.900000000000034" fill="#CDCDCD" filter="url(#bl)"/>
<rect x="293" y="458.40" width="17.19999999999999" height="6" rx="3.0" fill="#888" opacity="0.225" filter="url(#b1)"/>
<rect x="293" y="462.00" width="17.19999999999999" height="3.8" rx="1.9" fill="#000" opacity="0.9" filter="url(#b1)"/>
<rect x="295.5" y="462.95" width="12.199999999999989" height="1.9" rx="0.9" fill="#000" opacity="0.18000000000000002" filter="url(#b0)"/>
<rect x="348" y="456.90" width="18" height="6" rx="3.0" fill="#888" opacity="0.17" filter="url(#b1)"/>
<rect x="348" y="460.60" width="18" height="3.6" rx="1.8" fill="#111" opacity="0.68" filter="url(#b1)"/>
<rect x="350.5" y="461.50" width="13.0" height="1.8" rx="0.9" fill="#000" opacity="0.136" filter="url(#b0)"/>
<rect x="373" y="456.70" width="19" height="6" rx="3.0" fill="#888" opacity="0.22" filter="url(#b1)"/>
<rect x="373" y="460.20" width="19" height="4" rx="2.0" fill="#000" opacity="0.88" filter="url(#b1)"/>
<rect x="375.5" y="461.20" width="14.0" height="2.0" rx="1.0" fill="#000" opacity="0.17600000000000002" filter="url(#b0)"/>
<rect x="399" y="456.70" width="18" height="6" rx="3.0" fill="#888" opacity="0.12" filter="url(#b1)"/>
<rect x="399" y="460.70" width="18" height="3" rx="1.5" fill="#222" opacity="0.48" filter="url(#b1)"/>
<rect x="401.5" y="461.45" width="13.0" height="1.5" rx="0.8" fill="#000" opacity="0.096" filter="url(#b0)"/>
<rect x="424" y="455.30" width="17.5" height="6" rx="3.0" fill="#888" opacity="0.08" filter="url(#b1)"/>
<rect x="424" y="459.30" width="17.5" height="3" rx="1.5" fill="#444" opacity="0.32" filter="url(#b1)"/>
<rect x="426.5" y="460.05" width="12.5" height="1.5" rx="0.8" fill="#000" opacity="0.064" filter="url(#b0)"/>
<rect x="480" y="456.70" width="17" height="6" rx="3.0" fill="#888" opacity="0.205" filter="url(#b1)"/>
<rect x="480" y="460.30" width="17" height="3.8" rx="1.9" fill="#000" opacity="0.82" filter="url(#b1)"/>
<rect x="482.5" y="461.25" width="12.0" height="1.9" rx="0.9" fill="#000" opacity="0.164" filter="url(#b0)"/>
</g>
<text x="297.5" y="489.5" font-size="8.1" fill="#111" font-weight="bold" textLength="10.7" lengthAdjust="spacingAndGlyphs" stroke="#111" stroke-width="0.2">hIR</text>
<text x="328.2" y="489.5" font-size="8.1" fill="#111" font-weight="bold" textLength="7.5" lengthAdjust="spacingAndGlyphs" stroke="#111" stroke-width="0.2">C-</text>
<text x="354.2" y="489.5" font-size="8.1" fill="#111" font-weight="bold" textLength="11.3" lengthAdjust="spacingAndGlyphs" stroke="#111" stroke-width="0.2">M0</text>
<text x="380.7" y="489.5" font-size="8.1" fill="#111" font-weight="bold" textLength="10.3" lengthAdjust="spacingAndGlyphs" stroke="#111" stroke-width="0.2">M2</text>
<text x="405" y="489.5" font-size="8.1" fill="#111" font-weight="bold" textLength="11.2" lengthAdjust="spacingAndGlyphs" stroke="#111" stroke-width="0.2">M6</text>
<text x="427" y="489.5" font-size="8.1" fill="#111" font-weight="bold" textLength="15.5" lengthAdjust="spacingAndGlyphs" stroke="#111" stroke-width="0.2">M12</text>
<text x="455.7" y="489.5" font-size="8.1" fill="#111" font-weight="bold" textLength="15.5" lengthAdjust="spacingAndGlyphs" stroke="#111" stroke-width="0.2">M16</text>
<text x="488" y="489.5" font-size="8.1" fill="#111" font-weight="bold" textLength="8.2" lengthAdjust="spacingAndGlyphs" stroke="#111" stroke-width="0.2">C+</text>
</svg>
</body></html>
